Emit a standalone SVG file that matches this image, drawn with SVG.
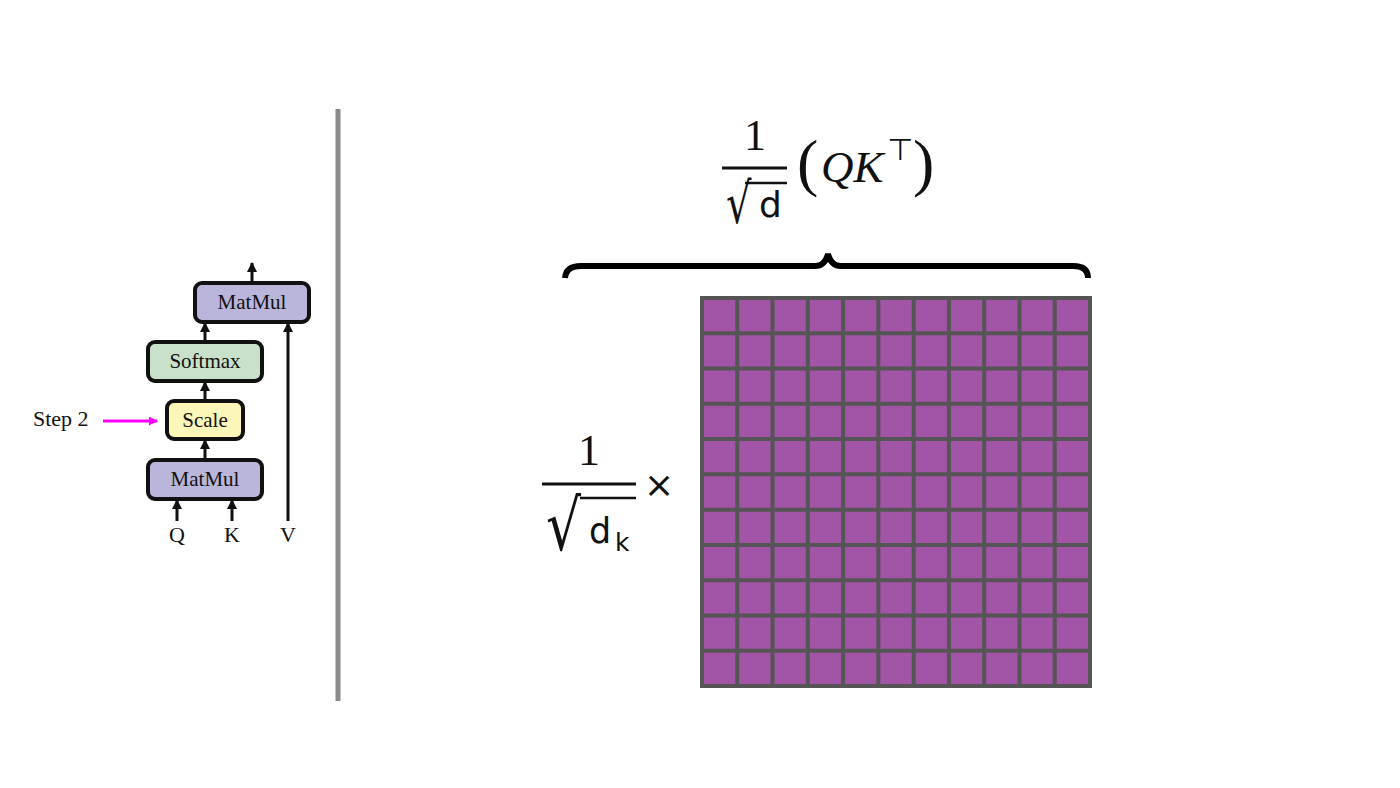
<svg xmlns="http://www.w3.org/2000/svg" width="1400" height="788" viewBox="0 0 1400 788">
<defs>
<style>
.box{stroke:#111;stroke-width:4}
.mm{fill:#bab5da}
.sm{fill:#c9e1ca}
.sc{fill:#fcf6b8}
.lbl{font-family:"Liberation Serif","Times New Roman",serif;font-size:21px;fill:#111;text-anchor:middle}
.io{font-size:22px}
.ln{stroke:#111;stroke-width:3;fill:none}
.math{font-family:"Liberation Serif",serif;fill:#111}
.sans{font-family:"DejaVu Sans",sans-serif;fill:#111}
</style>
<marker id="ah" viewBox="0 0 10 10" refX="9" refY="5" markerWidth="10" markerHeight="10" markerUnits="userSpaceOnUse" orient="auto">
<path d="M0,0 L10,5 L0,10 z" fill="#111"/>
</marker>
<marker id="ahm" viewBox="0 0 10 10" refX="9" refY="5" markerWidth="9" markerHeight="9" markerUnits="userSpaceOnUse" orient="auto">
<path d="M0,0 L10,5 L0,10 z" fill="#ff00ff"/>
</marker>
</defs>
<rect width="1400" height="788" fill="#ffffff"/>

<g id="connectors">
<line class="ln" x1="252" y1="283" x2="252" y2="263" marker-end="url(#ah)"/>
<line class="ln" x1="288" y1="521" x2="288" y2="323" marker-end="url(#ah)"/>
<line class="ln" x1="205" y1="342" x2="205" y2="323" marker-end="url(#ah)"/>
<line class="ln" x1="205" y1="401" x2="205" y2="382" marker-end="url(#ah)"/>
<line class="ln" x1="205" y1="460" x2="205" y2="440" marker-end="url(#ah)"/>
<line class="ln" x1="177" y1="521" x2="177" y2="500" marker-end="url(#ah)"/>
<line class="ln" x1="232" y1="521" x2="232" y2="500" marker-end="url(#ah)"/>
<line x1="103" y1="421" x2="157" y2="421" stroke="#ff00ff" stroke-width="3" marker-end="url(#ahm)"/>
</g>

<g id="matmul-top"><rect class="box mm" x="195" y="283" width="114" height="39" rx="7"/><text class="lbl" x="252" y="309">MatMul</text></g>
<g id="softmax"><rect class="box sm" x="148" y="342" width="114" height="39" rx="7"/><text class="lbl" x="205" y="368">Softmax</text></g>
<g id="scale"><rect class="box sc" x="167" y="401" width="76" height="38" rx="7"/><text class="lbl" x="205" y="427">Scale</text></g>
<g id="matmul-bottom"><rect class="box mm" x="148" y="460" width="114" height="39" rx="7"/><text class="lbl" x="205" y="486">MatMul</text></g>

<g id="inputs">
<text class="lbl io" x="177" y="542">Q</text>
<text class="lbl io" x="232" y="542">K</text>
<text class="lbl io" x="288" y="542">V</text>
</g>
<g id="step2"><text class="lbl" x="33" y="426" style="text-anchor:start;font-size:22px">Step 2</text></g>

<g id="divider"><line x1="338" y1="109" x2="338" y2="701" stroke="#8a8a8a" stroke-width="5"/></g>

<g id="top-formula">
<text class="math" x="755" y="150" font-size="44" text-anchor="middle">1</text>
<line x1="722" y1="168" x2="787" y2="168" stroke="#111" stroke-width="3"/>
<text class="sans" transform="translate(726,223) scale(1,1.4)" font-size="40">√</text>
<line x1="745" y1="183" x2="787" y2="183" stroke="#111" stroke-width="2.5"/>
<text class="sans" x="759" y="217" font-size="36">d</text>
<text class="math" x="797" y="184" font-size="64">(</text>
<text class="math" x="821" y="182" font-size="45" font-style="italic">QK</text>
<text class="sans" x="887" y="160" font-size="30">⊤</text>
<text class="math" x="913" y="184" font-size="64">)</text>
</g>

<g id="brace">
<path d="M565,278 Q566,266 581,266 L815,266 Q825,266 828,254 Q831,266 841,266 L1073,266 Q1088,266 1088,278" fill="none" stroke="#000" stroke-width="6"/>
</g>

<g id="left-formula">
<text class="math" x="589" y="465" font-size="44" text-anchor="middle">1</text>
<line x1="542" y1="484" x2="636" y2="484" stroke="#111" stroke-width="3"/>
<text class="sans" transform="translate(546,550) scale(1.1,1.4)" font-size="50">√</text>
<line x1="580" y1="498" x2="636" y2="498" stroke="#111" stroke-width="2.5"/>
<text class="sans" x="589" y="543" font-size="35">d</text>
<text class="sans" x="615" y="551" font-size="25">k</text>
<text class="sans" x="644" y="497" font-size="36">×</text>
</g>

<g id="matrix">
<rect x="702" y="298" width="388" height="388" fill="#a254a6" stroke="#555" stroke-width="4"/>
<path stroke="#555" stroke-width="4" fill="none" d="M737.27,298V686M772.55,298V686M807.82,298V686M843.09,298V686M878.36,298V686M913.64,298V686M948.91,298V686M984.18,298V686M1019.45,298V686M1054.73,298V686M702,333.27H1090M702,368.55H1090M702,403.82H1090M702,439.09H1090M702,474.36H1090M702,509.64H1090M702,544.91H1090M702,580.18H1090M702,615.45H1090M702,650.73H1090"/>
</g>
</svg>
